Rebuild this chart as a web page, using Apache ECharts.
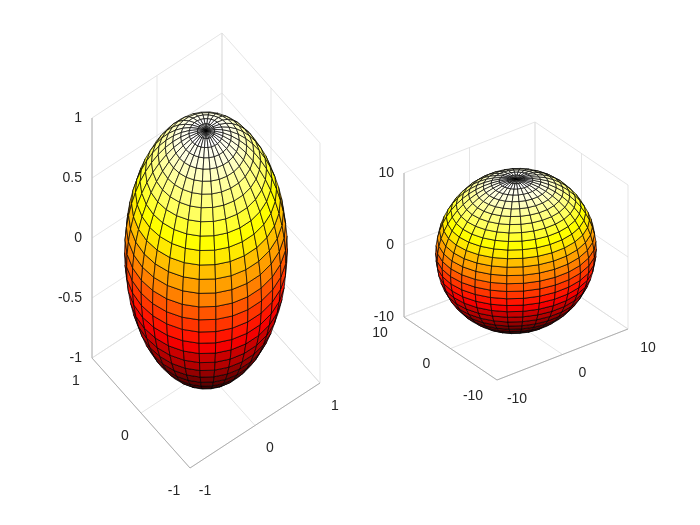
<!DOCTYPE html><html><head><meta charset="utf-8">
<script src="https://cdn.jsdelivr.net/npm/echarts@6/dist/echarts.min.js"></script>
<style>html,body{margin:0;background:#fff}#c{width:700px;height:525px}</style></head><body><div id="c"></div>
<script>
// ---- data ----
const N = 30;                       // ellipsoid resolution
const radiusL = 1, radiusR = 10;
const limL = [-1, 1], limR = [-10, 10];
const zTicksL = [-1, -0.5, 0, 0.5, 1];
const xyTicksL = [-1, 0, 1];
const ticksR = [-10, 0, 10];
// ---- layout: projection of normalized box [-1,1]^3 per panel ----
const panels = [
  {o:[190,468], ex:[65,-42.5], ey:[-49,-55], ez:[0,-120], r:radiusL, lim:limL, xt:xyTicksL, yt:xyTicksL, zt:zTicksL,
   yOff:[-16,23], xOff:[15,23], zOff:-10},
  {o:[497,380], ex:[65.5,-25.5], ey:[-46.5,-31.5], ez:[0,-72], r:radiusR, lim:limR, xt:ticksR, yt:ticksR, zt:ticksR,
   yOff:[-24,16], xOff:[20,19], zOff:-10}
];
function proj(p, x, y, z){
  const n = v => (v - p.lim[0]) / (p.lim[1] - p.lim[0]) * 2;
  const a = n(x), b = n(y), c = n(z);
  return [p.o[0] + a*p.ex[0] + b*p.ey[0] + c*p.ez[0], p.o[1] + a*p.ex[1] + b*p.ey[1] + c*p.ez[1]];
}
function hot(m){const n=Math.floor(3/8*m),c=[];for(let i=1;i<=m;i++){const r=Math.min(1,i/n),g=Math.min(1,Math.max(0,(i-n)/n)),b=Math.max(0,(i-2*n)/(m-2*n));c.push('rgb('+Math.round(r*255)+','+Math.round(g*255)+','+Math.round(b*255)+')');}return c;}
const cmap = hot(64);
function sph(p,i,j){const th=-Math.PI+2*Math.PI*j/N, ph=-Math.PI/2+Math.PI*i/N;
  return [p.r*Math.cos(ph)*Math.cos(th), p.r*Math.cos(ph)*Math.sin(th), p.r*Math.sin(ph)];}
function quad(p,i,j){return [sph(p,i,j),sph(p,i,j+1),sph(p,i+1,j+1),sph(p,i+1,j)].map(v=>proj(p,v[0],v[1],v[2]));}
function area(q){let s=0;for(let k=0;k<q.length;k++){const a=q[k],b=q[(k+1)%q.length];s+=a[0]*b[1]-b[0]*a[1];}return s;}
const faces=[];
panels.forEach((p,pi)=>{
  const ref=Math.sign(area(quad(p,N/2,Math.round(N/8))));
  for(let i=0;i<N;i++)for(let j=0;j<N;j++){
    const q=quad(p,i,j); const s=area(q);
    if(Math.sign(s)!==ref && Math.abs(s)>1e-6) continue;
    const z=sph(p,i,j)[2]; let k=Math.floor((z+p.r)/(2*p.r)*64); k=Math.max(0,Math.min(63,k));
    faces.push({pi,i,j,c:cmap[k]});
  }
});
const segs=[];
panels.forEach((p,pi)=>{
  const [a,b]=p.lim;
  const g=(P,Q)=>segs.push({pi,P,Q,t:'g'}), ax=(P,Q)=>segs.push({pi,P,Q,t:'a'});
  p.xt.forEach(x=>g([x,b,a],[x,b,b])); p.zt.forEach(z=>g([a,b,z],[b,b,z]));
  p.yt.forEach(y=>g([b,y,a],[b,y,b])); p.zt.forEach(z=>g([b,a,z],[b,b,z]));
  p.xt.forEach(x=>g([x,a,a],[x,b,a])); p.yt.forEach(y=>g([a,y,a],[b,y,a]));
  ax([a,b,a],[a,b,b]); ax([a,a,a],[a,b,a]); ax([a,a,a],[b,a,a]);
});
const labels=[];
panels.forEach((p,pi)=>{
  const [a,b]=p.lim;
  p.zt.forEach(z=>labels.push({pi,pos:[a,b,z],t:String(z),k:'z'}));
  p.yt.forEach(y=>labels.push({pi,pos:[a,y,a],t:String(y),k:'y'}));
  p.xt.forEach(x=>labels.push({pi,pos:[x,a,a],t:String(x),k:'x'}));
});
const chart=echarts.init(document.getElementById('c'));
const C=(api,pt)=>api.coord(pt);
chart.setOption({
  animation:false,
  grid:{left:0,right:0,top:0,bottom:0},
  xAxis:{type:'value',min:0,max:700,show:false},
  yAxis:{type:'value',min:0,max:525,inverse:true,show:false},
  series:[
    {type:'custom',data:segs.map((s,i)=>i),renderItem:(params,api)=>{
      const s=segs[params.dataIndex],p=panels[s.pi];
      const A=C(api,proj(p,...s.P)),B=C(api,proj(p,...s.Q));
      return {type:'line',shape:{x1:A[0],y1:A[1],x2:B[0],y2:B[1]},style:{stroke:s.t==='g'?'#dedede':'#b0b0b0',lineWidth:s.t==='g'?0.8:1}};
    }},
    {type:'custom',data:faces.map((f,i)=>i),renderItem:(params,api)=>{
      const f=faces[params.dataIndex],p=panels[f.pi];
      return {type:'polygon',shape:{points:quad(p,f.i,f.j).map(q=>C(api,q))},style:{fill:f.c,stroke:'#000',lineWidth:0.7}};
    }},
    {type:'custom',data:labels.map((l,i)=>i),renderItem:(params,api)=>{
      const l=labels[params.dataIndex],p=panels[l.pi];
      const P=C(api,proj(p,...l.pos));
      let x=P[0],y=P[1],al='center';
      if(l.k==='z'){x+=p.zOff;al='right';} else if(l.k==='y'){x+=p.yOff[0];y+=p.yOff[1];} else {x+=p.xOff[0];y+=p.xOff[1];}
      return {type:'text',style:{text:l.t,x,y,align:al,verticalAlign:'middle',fill:'#262626',font:'14px "Liberation Sans", Arial, sans-serif'}};
    }}
  ]
});
</script></body></html>
